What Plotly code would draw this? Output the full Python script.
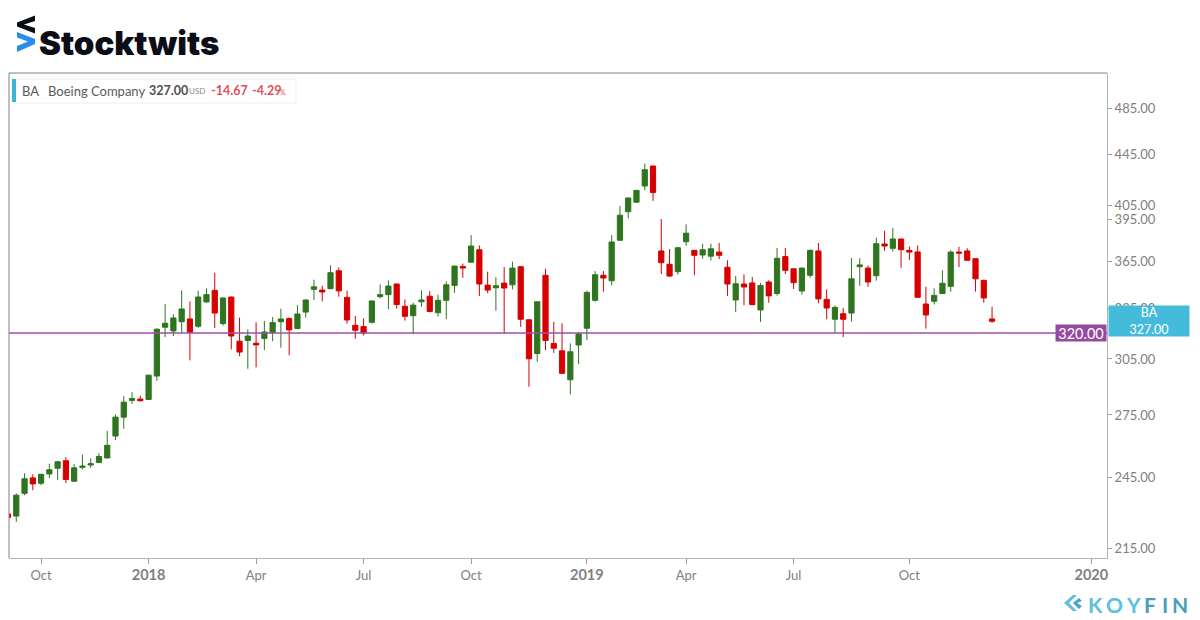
"""Boeing weekly candles with the Stocktwits / Koyfin chrome."""

import math

import plotly.graph_objects as go

opens = [
    229.0, 228.1, 237.9, 244.8, 242.4, 246.6, 249.2, 252.7, 243.3, 249.6,
    250.7, 251.9, 254.0, 264.5, 273.9, 282.5, 283.2, 283.0, 295.5, 323.4,
    321.2, 326.7, 328.4, 324.0, 338.9, 346.2, 325.6, 342.0, 315.2, 315.6,
    314.0, 316.8, 320.2, 326.7, 328.6, 322.6, 332.6, 346.9, 346.4, 347.3,
    359.0, 341.8, 324.6, 323.8, 326.4, 342.2, 343.5, 350.3, 336.2, 330.4,
    339.0, 342.5, 332.2, 339.9, 349.4, 361.9, 364.7, 373.2, 349.6, 347.9,
    350.9, 349.8, 361.7, 327.9, 308.1, 356.0, 313.8, 309.6, 293.5, 313.0,
    322.8, 339.9, 356.0, 352.4, 379.8, 400.4, 407.5, 419.9, 435.7, 372.4,
    363.3, 358.4, 378.8, 372.8, 369.6, 368.8, 371.6, 361.3, 340.1, 350.3,
    351.0, 333.9, 351.6, 344.2, 368.5, 360.3, 345.8, 356.0, 372.4, 340.5,
    328.2, 331.6, 332.0, 361.7, 360.8, 355.7, 377.2, 374.2, 380.7, 372.8,
    371.7, 337.6, 339.3, 344.2, 348.8, 371.6, 372.4, 367.1, 352.7, 328.4,
]
highs = [
    229.6, 237.9, 246.9, 246.4, 246.7, 251.3, 252.5, 254.4, 251.1, 255.5,
    253.8, 256.2, 267.0, 275.3, 284.8, 286.8, 285.0, 296.2, 322.8, 337.6,
    331.2, 346.2, 339.2, 346.0, 347.5, 357.7, 341.6, 342.2, 329.2, 322.2,
    326.4, 327.2, 329.6, 334.7, 329.4, 336.9, 340.5, 353.1, 349.2, 362.6,
    361.3, 346.0, 330.2, 328.8, 339.7, 350.0, 352.7, 350.6, 340.5, 338.4,
    346.2, 345.8, 343.5, 352.0, 362.3, 363.8, 383.5, 376.2, 358.4, 354.7,
    361.5, 365.1, 361.9, 328.0, 339.2, 360.4, 326.6, 325.8, 313.9, 320.6,
    346.0, 358.8, 358.8, 383.5, 404.6, 411.0, 416.7, 437.7, 436.0, 395.0,
    373.7, 374.8, 391.1, 373.0, 377.4, 377.4, 378.0, 366.0, 355.5, 356.6,
    354.9, 350.9, 352.7, 374.4, 374.4, 360.5, 361.0, 373.4, 377.9, 346.9,
    336.6, 335.1, 367.6, 367.4, 362.4, 381.6, 386.6, 388.5, 381.0, 375.5,
    376.2, 348.5, 347.5, 359.3, 372.9, 375.2, 374.2, 367.3, 353.0, 335.9,
]
lows = [
    226.8, 225.7, 237.1, 239.3, 241.5, 244.8, 243.9, 242.5, 243.0, 248.7,
    249.3, 251.7, 253.8, 262.5, 268.1, 280.7, 282.0, 282.8, 292.9, 317.6,
    318.2, 320.2, 304.2, 323.0, 338.4, 323.0, 324.4, 310.4, 306.6, 299.5,
    300.3, 310.0, 315.2, 311.4, 307.1, 322.4, 329.2, 340.1, 339.3, 346.9,
    342.2, 325.6, 316.6, 318.6, 325.6, 341.2, 334.3, 334.7, 327.4, 319.2,
    335.9, 332.4, 329.8, 328.2, 344.7, 354.4, 364.4, 342.6, 344.5, 333.4,
    319.8, 346.9, 323.6, 289.7, 303.4, 310.0, 308.4, 296.8, 285.6, 302.1,
    315.8, 339.0, 345.4, 349.4, 379.6, 395.6, 407.0, 416.7, 408.5, 356.8,
    355.1, 356.4, 376.0, 356.0, 367.0, 365.9, 366.8, 342.7, 332.6, 336.9,
    336.9, 326.6, 338.4, 342.9, 356.8, 347.1, 343.5, 354.2, 338.0, 328.2,
    319.8, 317.6, 326.7, 349.2, 348.5, 352.5, 372.4, 372.0, 361.0, 366.2,
    341.6, 322.6, 337.3, 344.0, 345.4, 361.5, 365.8, 345.4, 338.4, 326.0,
]
closes = [
    227.5, 237.1, 244.4, 242.1, 246.4, 248.5, 252.2, 244.1, 249.4, 250.2,
    251.3, 254.7, 260.0, 273.9, 281.6, 283.5, 282.3, 296.0, 322.2, 325.8,
    329.0, 334.5, 320.4, 342.0, 343.5, 332.0, 341.4, 318.2, 308.9, 318.2,
    313.0, 320.6, 326.2, 328.4, 321.8, 331.4, 340.1, 348.5, 345.2, 357.7,
    345.9, 327.8, 321.6, 320.0, 339.5, 343.5, 349.0, 337.3, 330.0, 336.9,
    340.1, 333.0, 339.9, 349.8, 362.1, 360.8, 375.8, 350.3, 346.4, 349.2,
    347.7, 360.8, 328.2, 305.1, 339.0, 315.6, 311.1, 297.0, 309.1, 319.4,
    344.9, 356.4, 354.2, 378.6, 397.8, 410.7, 416.5, 432.7, 414.9, 364.4,
    355.5, 374.6, 384.8, 369.4, 373.2, 373.9, 369.4, 350.3, 350.5, 348.4,
    337.2, 349.4, 342.7, 367.4, 359.3, 351.2, 360.8, 372.8, 340.8, 335.1,
    335.5, 328.2, 353.7, 362.9, 351.6, 377.4, 375.8, 380.7, 373.2, 371.6,
    341.8, 330.8, 343.0, 350.8, 371.6, 370.9, 366.0, 353.7, 341.4, 327.0,
]
bar_index = list(range(len(opens)))

YEAR = '<span style="font-size:14.5px"><b>{}</b></span>'
x_tick_index = [4, 17, 30, 43, 56, 70, 82, 95, 109, 131]
x_tick_text = ["Oct", YEAR.format(2018), "Apr", "Jul", "Oct", YEAR.format(2019), "Apr", "Jul", "Oct", YEAR.format(2020)]
y_ticks = [215, 245, 275, 305, 335, 365, 395, 405, 445, 485]
y_tick_text = ["215.00", "245.00", "275.00", "305.00", "335.00", "365.00", "395.00", "405.00", "445.00", "485.00"]

alert_price = 320
last_price = 327

W, H = 1200, 620
L, R, T, B = 9, 1107, 73, 558
FONT = "Lato, sans-serif"
TICK_GREY = "#808080"


def px(x):
    return (x - L) / (R - L)


def py(y):
    return (B - y) / (B - T)


def page_path(points):
    return "M " + " L ".join(f"{px(x):.5f},{py(y):.5f}" for x, y in points) + " Z"


def page_text(fig, x, y, text, size, color, anchor="left", weight=None, family=FONT):
    fig.add_annotation(
        x=px(x), y=py(y), xref="paper", yref="paper", text=text, showarrow=False,
        xanchor=anchor, yanchor="middle", borderpad=0,
        font=dict(family=family, size=size, color=color, weight=weight),
    )


fig = go.Figure(
    go.Candlestick(
        x=bar_index, open=opens, high=highs, low=lows, close=closes,
        increasing=dict(line=dict(color="#2f751f", width=1), fillcolor="#2f751f"),
        decreasing=dict(line=dict(color="#d60000", width=1), fillcolor="#d60000"),
        whiskerwidth=0, showlegend=False,
    )
)

fig.update_layout(
    width=W, height=H, autosize=False,
    margin=dict(l=L, r=W - R, t=T, b=H - B, pad=0),
    paper_bgcolor="white", plot_bgcolor="white",
    font=dict(family=FONT, size=13, color=TICK_GREY),
    boxgap=0.1, showlegend=False, hovermode="closest",
)
fig.update_xaxes(
    range=[0.12, 132.9], rangeslider_visible=False, showgrid=False, zeroline=False,
    tickmode="array", tickvals=x_tick_index, ticktext=x_tick_text,
    ticks="outside", ticklen=5, tickcolor="#999999", tickfont=dict(size=13, color=TICK_GREY),
    showline=True, linecolor="#b5b5b5", linewidth=1,
)
fig.update_yaxes(
    type="log", range=[2.32451, 2.71384], side="right", showgrid=False, zeroline=False,
    tickmode="array", tickvals=y_ticks, ticktext=y_tick_text,
    ticks="outside", ticklen=4, tickcolor="#999999", tickfont=dict(size=13, color=TICK_GREY),
    showline=True, linecolor="#b5b5b5", linewidth=1,
)

# darker frame on the left and top
fig.add_shape(type="line", xref="paper", yref="paper", x0=0, x1=0, y0=0, y1=1, line=dict(color="#808080", width=1))
fig.add_shape(type="line", xref="paper", yref="paper", x0=0, x1=1, y0=1, y1=1, line=dict(color="#808080", width=1))

# alert line and price flags (annotations on a log axis take log10 values)
fig.add_shape(type="line", xref="paper", yref="y", x0=0, x1=1, y0=alert_price, y1=alert_price,
              line=dict(color="#9c4fa8", width=1.5))
fig.add_annotation(
    x=1, y=math.log10(alert_price), xref="paper", yref="y", text=f"{alert_price:.2f}", showarrow=False,
    xanchor="right", yanchor="middle", width=50, height=16, bgcolor="#954a9f", borderpad=0,
    font=dict(family=FONT, size=14.5, color="white"),
)
fig.add_annotation(
    x=1, y=math.log10(last_price), xref="paper", yref="y", text=f"BA<br>{last_price:.2f}", showarrow=False,
    xanchor="left", yanchor="middle", xshift=1, width=80, height=30, bgcolor="#45bbdc", borderpad=0,
    font=dict(family=FONT, size=12.5, color="white"),
)

# ticker legend card
fig.add_shape(type="rect", xref="paper", yref="paper", x0=px(13), x1=px(296), y0=py(103), y1=py(79),
              line=dict(color="#eeeeee", width=1), fillcolor="white")
fig.add_shape(type="rect", xref="paper", yref="paper", x0=px(12), x1=px(16), y0=py(102), y1=py(79),
              line=dict(width=0), fillcolor="#3db5d8")
page_text(fig, 21, 90.5, "BA", 13, "#5a5a5a")
page_text(fig, 47, 90.5, "Boeing Company", 13, "#5a5a5a")
page_text(fig, 148, 90.5, "327.00", 12.5, "#505050", weight=700)
page_text(fig, 188, 91.5, "USD", 8, "#888888")
page_text(fig, 210, 90.5, "-14.67", 12.5, "#e0505a", weight=700)
page_text(fig, 251, 90.5, "-4.29", 12.5, "#e0505a", weight=700)
page_text(fig, 279, 92, "%", 7, "#e0505a")

# Stocktwits logo
fig.add_shape(type="path", xref="paper", yref="paper", fillcolor="#0b0d17", line=dict(width=0),
              path=page_path([(35, 15.5), (35, 21), (24, 24.5), (35, 28), (35, 33.5), (17, 26.5), (17, 22.5)]))
fig.add_shape(type="path", xref="paper", yref="paper", fillcolor="#2b8cf0", line=dict(width=0),
              path=page_path([(17, 32), (35, 39), (35, 44), (17, 52), (17, 46), (28, 41.5), (17, 37.5)]))
page_text(fig, 38, 43, "Stocktwits", 33, "#0b0d17", weight=900, family="Inter, sans-serif")

# Koyfin logo
fig.add_shape(type="path", xref="paper", yref="paper", fillcolor="#5cc0de", line=dict(width=0),
              path=page_path([(1073, 595), (1077, 595), (1069, 603), (1077, 611), (1073, 611), (1064, 603)]))
fig.add_shape(type="path", xref="paper", yref="paper", fillcolor="#4aa3c4", line=dict(width=0),
              path=page_path([(1079, 598), (1082, 601), (1077, 603), (1082, 606), (1079, 609), (1073, 603)]))
for x, letter, color in [
    (1095, "K", "#5cc0de"), (1114, "O", "#5cc0de"), (1133, "Y", "#5cc0de"),
    (1150, "F", "#4a9dbd"), (1165, "I", "#4a9dbd"), (1180, "N", "#4a9dbd"),
]:
    page_text(fig, x, 604, letter, 21, color, anchor="center", weight=700)

# the page's default body margin would push the figure 8px off
fig.write_html(
    "out.html",
    config={"displayModeBar": False},
    post_script="document.body.style.margin = '0';",
)
